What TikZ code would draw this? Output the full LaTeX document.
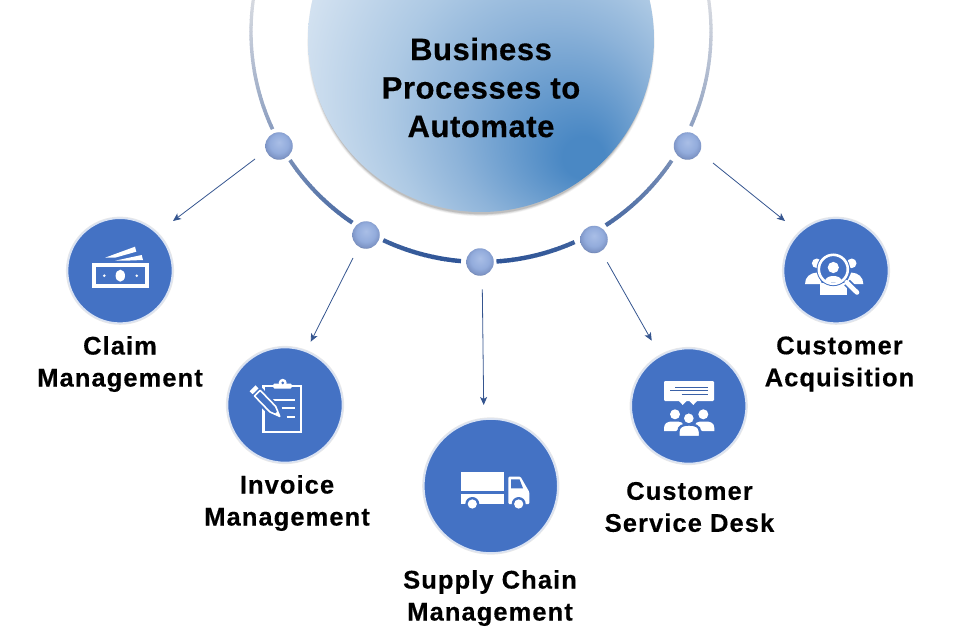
\documentclass[tikz,border=0pt]{standalone}
\usepackage{fontspec}
\setmainfont{Liberation Sans}
\newfontfamily\titlefont[LetterSpace=1.8,FakeBold=0.4]{Liberation Sans Bold}
\newfontfamily\labelfont[LetterSpace=4.2,FakeBold=0.4]{Liberation Sans Bold}
\usetikzlibrary{calc,arrows.meta}
\definecolor{iconblue}{HTML}{4472C4}
\definecolor{ringdark}{HTML}{2F5597}
\definecolor{ringlight}{HTML}{D6D9E0}
\definecolor{arrowblue}{HTML}{35558F}
\definecolor{mainA}{HTML}{8DB3D9}
\definecolor{mainB}{HTML}{4A88C4}
\definecolor{mainC}{HTML}{ADC9E4}
\definecolor{mainD}{HTML}{D2E1F0}
\definecolor{mainE}{HTML}{E6EEF7}
\definecolor{ballA}{HTML}{A9BEE6}
\definecolor{ballB}{HTML}{93ACDC}
\definecolor{ballC}{HTML}{7C93C4}
\definecolor{ballD}{HTML}{465472}
\pgfdeclareradialshading{mainsh}{\pgfpoint{15.75bp}{-18.2bp}}{
 color(0bp)=(mainB);
 color(3bp)=(mainB);
 color(15bp)=(mainA);
 color(22bp)=(mainC);
 color(32bp)=(mainD);
 color(40bp)=(mainE);
 color(50bp)=(mainE)}
\pgfdeclareradialshading{ballsh}{\pgfpoint{0bp}{7bp}}{
 color(0bp)=(ballA);
 color(17bp)=(ballB);
 color(26bp)=(ballC);
 color(31bp)=(ballD);
 color(50bp)=(ballD)}
\tikzset{
 ballnode/.style={circle,inner sep=0pt,minimum size=27.5pt,shading=ballsh},
 iconcircle/.style={circle,inner sep=0pt,fill=iconblue,draw=iconblue!20!white,line width=1.6pt,preaction={draw=black!9,line width=3.2pt}},
 titletext/.style={align=center,font=\titlefont\fontsize{31}{38.5}\selectfont,text=black},
 labeltext/.style={align=center,font=\labelfont\fontsize{25.5}{32}\selectfont,text=black},
 linkarrow/.style={draw=arrowblue,line width=.8pt,-{Stealth[length=8pt,width=7pt,inset=2pt]}},
 iconwhite/.style={fill=white,draw=none},
 iconcut/.style={fill=iconblue,draw=none}
}
\newcommand{\ringarc}[2]{%
 \foreach \a in {#1,...,#2}{%
  \pgfmathsetmacro{\yy}{32+230*sin(\a)}%
  \pgfmathsetmacro{\tt}{min(100,max(0,100*pow(max(\yy,0)/262,1.15)))}%
  \pgfmathsetmacro{\wd}{3.2+1.2*\tt/100}%
  \pgfmathsetmacro{\nx}{\a+1.15}%
  \draw[line width=\wd pt,color=ringdark!\tt!ringlight] ([shift={(481,32)}]\a:230) arc[start angle=\a,end angle=\nx,radius=230];
 }}
\begin{document}
\begin{tikzpicture}[x=1pt,y=-1pt]
\useasboundingbox (0,0) rectangle (960,636);
\clip (0,0) rectangle (960,636);
% ring
\ringarc{-8}{23}
\ringarc{34}{56}
\ringarc{66}{85}
\ringarc{95}{114}
\ringarc{124}{145}
\ringarc{155}{187}
% main circle shadow
\foreach \i/\o in {4/4,3/6,2/8,1/11}{
 \fill[black,opacity=\o/100] (481,42.5) circle[radius=171+\i*.7];
}
\node[circle,inner sep=0pt,minimum size=346pt,shading=mainsh] (main) at (481,39) {};
\node[titletext] (title) at (481,87.5) {Business\\Processes to\\Automate};
% balls
\node[ballnode] (b1) at (279,146) {};
\node[ballnode] (b2) at (366,235) {};
\node[ballnode] (b3) at (480,262) {};
\node[ballnode] (b4) at (594,239.5) {};
\node[ballnode] (b5) at (687.5,146) {};
% icon circles
\node[iconcircle,minimum size=105pt] (c1) at (120,270.7) {};
\node[iconcircle,minimum size=115pt] (c2) at (285,405) {};
\node[iconcircle,minimum size=134pt] (c3) at (490.8,486) {};
\node[iconcircle,minimum size=115pt] (c4) at (688.7,406) {};
\node[iconcircle,minimum size=105pt] (c5) at (836,270.7) {};
% arrows
\draw[linkarrow] ([shift={(-24,13)}]b1.center) -- ([shift={(53,-49.7)}]c1.center);
\draw[linkarrow] ([shift={(-13,23)}]b2.center) -- ([shift={(25.7,-63.3)}]c2.center);
\draw[linkarrow] ([shift={(2.3,27.3)}]b3.center) -- ([shift={(-7.1,-81)}]c3.center);
\draw[linkarrow] ([shift={(13.3,22.8)}]b4.center) -- ([shift={(-37,-65.3)}]c4.center);
\draw[linkarrow] ([shift={(25.5,17)}]b5.center) -- ([shift={(-51,-49.7)}]c5.center);
% labels
\node[labeltext] (l1) at (120,364) {Claim\\Management};
\node[labeltext] (l2) at (287,503) {Invoice\\Management};
\node[labeltext] (l3) at (490,598) {Supply Chain\\Management};
\node[labeltext] (l4) at (689.5,507) {Customer\\Service Desk};
\node[labeltext] (l5) at (839.5,364) {Customer\\Acquisition};
% icon 1: cash
\fill[iconwhite] (105,257.7) -- (135,246.7) -- (136.3,251.7) -- (115,257.7) -- cycle;
\fill[iconwhite] (115,260.7) -- (141.7,255) -- (143,260) -- (125,260.7) -- cycle;
\fill[iconwhite] (92,262.7) rectangle (149.3,288);
\fill[iconcut] (96,267) rectangle (145.3,284);
\fill[iconwhite] (120.3,275.7) ellipse[x radius=4.7,y radius=6];
\fill[iconwhite] (104.3,275.7) circle[radius=1.4];
\fill[iconwhite] (136.7,275.7) circle[radius=1.4];
% icon 2: clipboard
\draw[white,line width=2.3pt] (263.4,386.2) rectangle (301.2,432.2);
\fill[iconwhite,rounded corners=1pt] (273.3,383.5) rectangle (291.7,388.5);
\fill[iconwhite] (282.7,382.8) circle[radius=4];
\fill[iconcut] (282.7,382.8) circle[radius=1.5];
\draw[white,line width=2pt] (273.3,400) -- (295,400);
\draw[white,line width=2pt] (281.7,408.3) -- (295,408.3);
\draw[white,line width=2pt] (286.7,416.7) -- (295,416.7);
\begin{scope}[shift={(253.3,389)},rotate=-46]
 \fill[iconcut] (-1,-7) rectangle (32,7);
 \fill[iconwhite] (-1,-4.2) rectangle (3.2,4.2);
 \draw[white,line width=1.6pt,line join=round] (5.8,-4) -- (28,-4) -- (38,0) -- (28,4) -- (5.8,4) -- cycle;
 \fill[iconwhite] (33,-2) -- (38.5,0) -- (33,2) -- cycle;
\end{scope}
% icon 3: truck
\fill[iconwhite] (460.7,472.3) rectangle (504,490.7);
\fill[iconwhite] (460.7,494) rectangle (504,504);
\fill[iconwhite,rounded corners=1pt] (508.3,476.7) -- (520.5,476.7) -- (529.3,492) -- (529.3,504) -- (508.3,504) -- cycle;
\fill[iconcut] (511,479.3) -- (519.5,479.3) -- (523,488.3) -- (511,488.3) -- cycle;
\fill[iconcut] (472.3,504) circle[radius=7];
\fill[iconwhite] (472.3,504) circle[radius=4.6];
\fill[iconcut] (518.7,504) circle[radius=7];
\fill[iconwhite] (518.7,504) circle[radius=4.6];
% icon 4: service desk
\fill[iconwhite,rounded corners=1.2pt] (664,381) rectangle (714,401);
\fill[iconwhite] (678.5,400.5) -- (682.7,405) -- (687,400.5) -- cycle;
\fill[iconwhite] (689,400.5) -- (693.3,405) -- (697.5,400.5) -- cycle;
\draw[iconblue!85!black,line width=1.3pt] (675,387.3) -- (707.7,387.3);
\draw[iconblue!85!black,line width=1.3pt] (670,390.7) -- (707.7,390.7);
\draw[iconblue!85!black,line width=1.3pt] (681.7,394.3) -- (707.7,394.3);
\fill[iconwhite] (675,414.3) circle[radius=5];
\fill[iconwhite] (703.3,414.3) circle[radius=5];
\fill[iconwhite] (664,431) -- (664,428) .. controls (664,423) and (668,421.5) .. (672,421.5) -- (678,421.5) .. controls (681,421.5) and (683,423) .. (684,426) -- (676,431) -- cycle;
\fill[iconwhite] (714.3,431) -- (714.3,428) .. controls (714.3,423) and (710.3,421.5) .. (706.3,421.5) -- (700.3,421.5) .. controls (697.3,421.5) and (695.3,423) .. (694.3,426) -- (702.3,431) -- cycle;
\draw[iconblue,fill=white,line width=2.4pt] (678.3,437) -- (678.3,432) .. controls (678.3,426) and (683,424.5) .. (689,424.5) .. controls (695,424.5) and (700,426) .. (700,432) -- (700,437) -- cycle;
\draw[iconblue,fill=white,line width=1.2pt] (688.8,418.3) circle[radius=5.6];
% icon 5: acquisition
\fill[iconwhite] (816.7,263.3) circle[radius=4.8];
\fill[iconwhite] (851.7,263.3) circle[radius=4.8];
\fill[iconwhite] (805,284) .. controls (805,277) and (810,273) .. (817,272.5) -- (822,284) -- cycle;
\fill[iconwhite] (863.3,284) .. controls (863.3,277) and (858.3,273) .. (851.3,272.5) -- (846,284) -- cycle;
\fill[iconwhite] (820,295) -- (820,283) -- (846.7,283) -- (846.7,295) -- cycle;
\fill[iconcut] (833.3,269.3) circle[radius=16.8];
\draw[iconblue,line width=8pt] (847,282.6) -- (858.5,294);
\draw[white,line width=2.6pt] (833.3,269.3) circle[radius=14.5];
\draw[white,line width=4.6pt,line cap=round] (846.7,282.3) -- (857,292.5);
\fill[iconwhite] (833.3,267.5) circle[radius=5.6];
\fill[iconwhite] (824.7,282) .. controls (825.5,277.5) and (829,276) .. (833.3,276) .. controls (837.6,276) and (841.5,277.5) .. (842.2,282) -- cycle;
\end{tikzpicture}
\end{document}
